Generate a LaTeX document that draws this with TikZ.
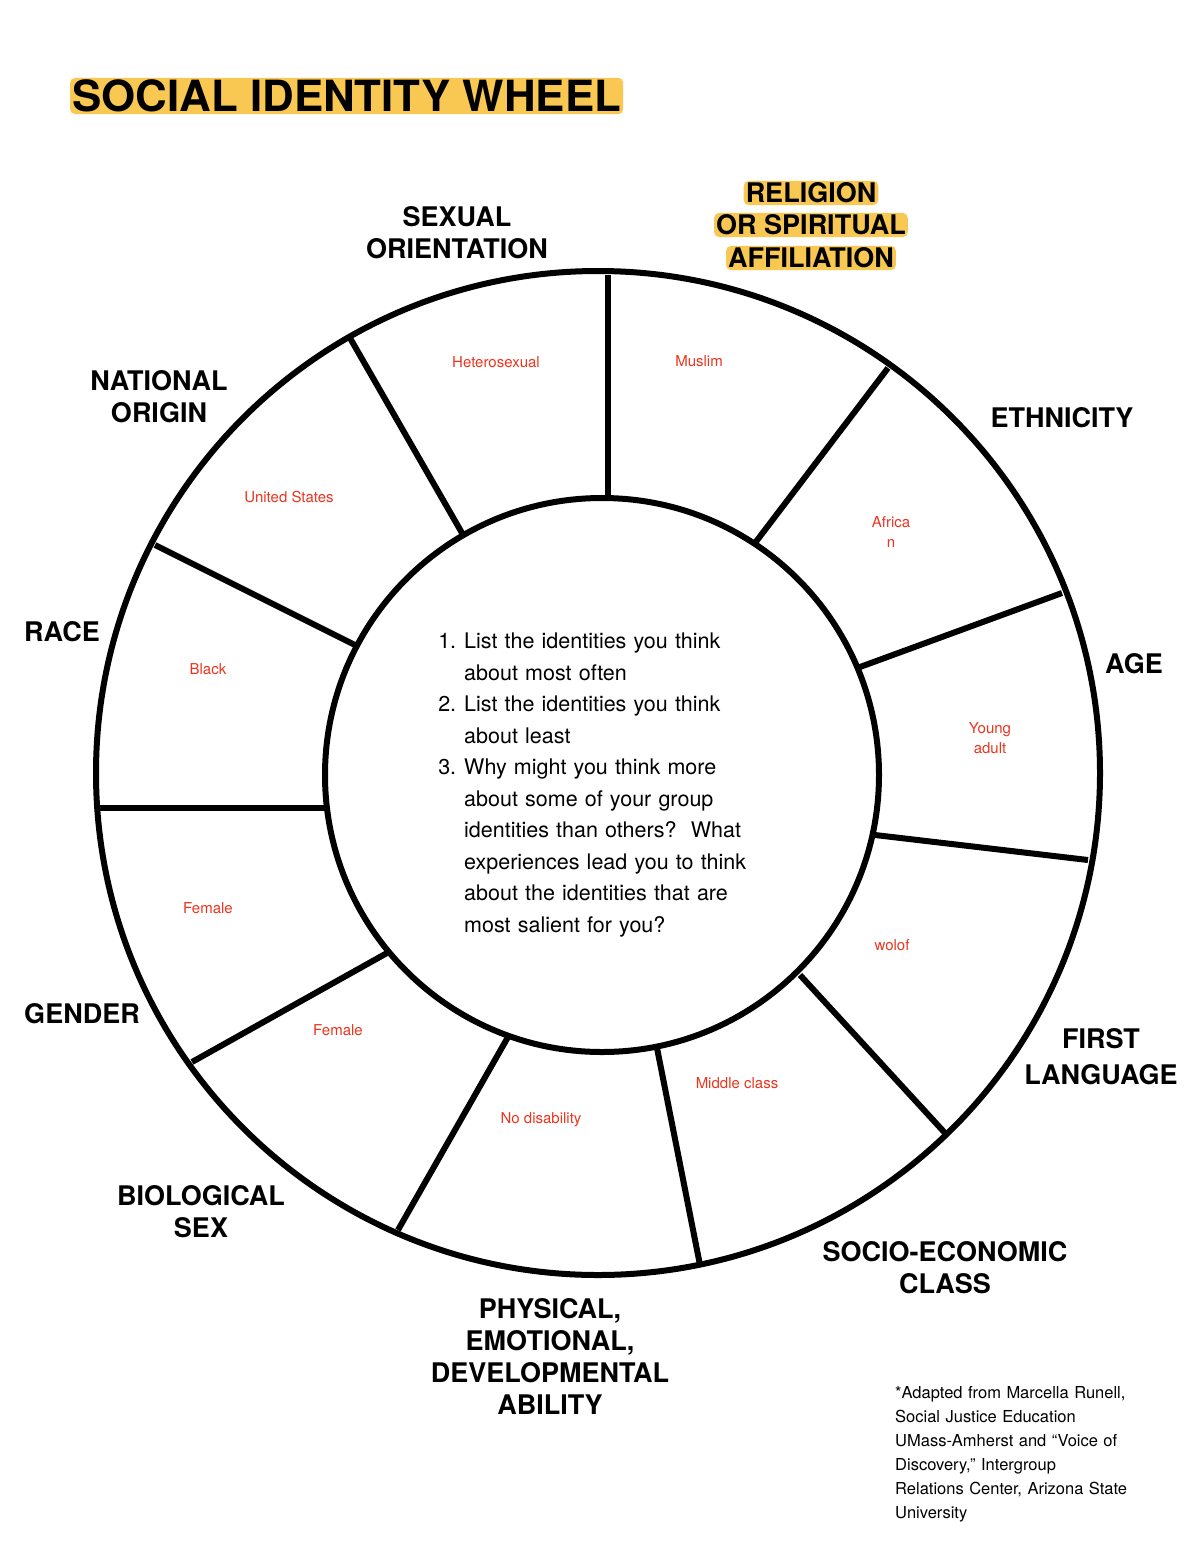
\documentclass[tikz,border=0pt]{standalone}
\usepackage{fontspec}
\setmainfont{TeX Gyre Heros}
\definecolor{hlc}{RGB}{249,200,82}
\definecolor{valc}{RGB}{235,52,30}
\begin{document}
\begin{tikzpicture}[x=1pt,y=-1pt,
  lab/.style={font=\bfseries\fontsize{27}{32}\selectfont, align=center, inner sep=1pt},
  val/.style={font=\fontsize{15}{20}\selectfont, text=valc, align=center},
  spoke/.style={line width=6pt},
  hl/.style={fill=hlc, rounded corners=5pt, inner sep=2pt}]
\useasboundingbox (0,0) rectangle (1200,1553);
\node[hl, anchor=west, font=\bfseries\fontsize{43}{46}\selectfont, xscale=1.02] (title) at (70,96) {SOCIAL IDENTITY WHEEL};
\coordinate (c) at (598,773);
\draw[spoke] (c) circle[radius=502];
\draw[spoke] (602,775) circle[radius=277];
\draw[spoke] (608,275)--(608,497);
\draw[spoke] (888,368)--(755,543);
\draw[spoke] (1062,593)--(860,667);
\draw[spoke] (1088,860)--(875,835);
\draw[spoke] (945,1133)--(800,975);
\draw[spoke] (700,1265)--(657,1048);
\draw[spoke] (398,1230)--(508,1037);
\draw[spoke] (192,1062)--(387,953);
\draw[spoke] (100,808)--(328,808);
\draw[spoke] (155,545)--(355,645);
\draw[spoke] (350,338)--(462,533);
% labels
\node[lab] (so) at (457,233) {SEXUAL\\ORIENTATION};
\node[lab,hl] (r1) at (811,193) {RELIGION};
\node[lab,hl] (r2) at (811,225) {OR SPIRITUAL};
\node[lab,hl] (r3) at (811,258) {AFFILIATION};
\node[lab] (eth) at (1062,418) {ETHNICITY};
\node[lab] (age) at (1134,664) {AGE};
\node[lab] (fl) at (1101,1057) {FIRST\\[4pt]LANGUAGE};
\node[lab] (sec) at (945,1268) {SOCIO-ECONOMIC\\CLASS};
\node[lab] (phy) at (550,1356) {PHYSICAL,\\EMOTIONAL,\\DEVELOPMENTAL\\ABILITY};
\node[lab] (bio) at (201,1212) {BIOLOGICAL\\SEX};
\node[lab] (gen) at (82,1014) {GENDER};
\node[lab] (race) at (62,632) {RACE};
\node[lab] (nat) at (159,397) {NATIONAL\\ORIGIN};
% values
\node[val] (v1) at (496,362) {Heterosexual};
\node[val] (v2) at (699,361) {Muslim};
\node[val] (v3) at (891,532) {Africa\\n};
\node[val] (v4) at (990,738) {Young\\adult};
\node[val] (v5) at (892,945) {wolof};
\node[val] (v6) at (737,1083) {Middle class};
\node[val] (v7) at (541,1120) {No disability};
\node[val] (v8) at (338,1030) {Female};
\node[val] (v9) at (208,908) {Female};
\node[val] (v10) at (208,669) {Black};
\node[val] (v11) at (289,497) {United States};
% center text
\node[anchor=north west, text width=360pt, font=\fontsize{21.5}{31.5}\selectfont, inner sep=0pt] (q) at (428,617) {%
\begin{list}{}{\leftmargin=36pt\labelsep=8pt\itemsep=0pt\parsep=0pt\topsep=0pt}
\item[1.] List the identities you think\\about most often
\item[2.] List the identities you think\\about least
\item[3.] Why might you think more\\about some of your group\\identities than others?\ \ What\\experiences lead you to think\\about the identities that are\\most salient for you?
\end{list}};
\node[anchor=north west, text width=280pt, font=\fontsize{16.5}{24}\selectfont, inner sep=0pt, align=left] (note) at (895,1386) {*Adapted from Marcella Runell,\\Social Justice Education\\UMass-Amherst and ``Voice of\\Discovery,'' Intergroup\\Relations Center, Arizona State\\University};
\end{tikzpicture}
\end{document}
